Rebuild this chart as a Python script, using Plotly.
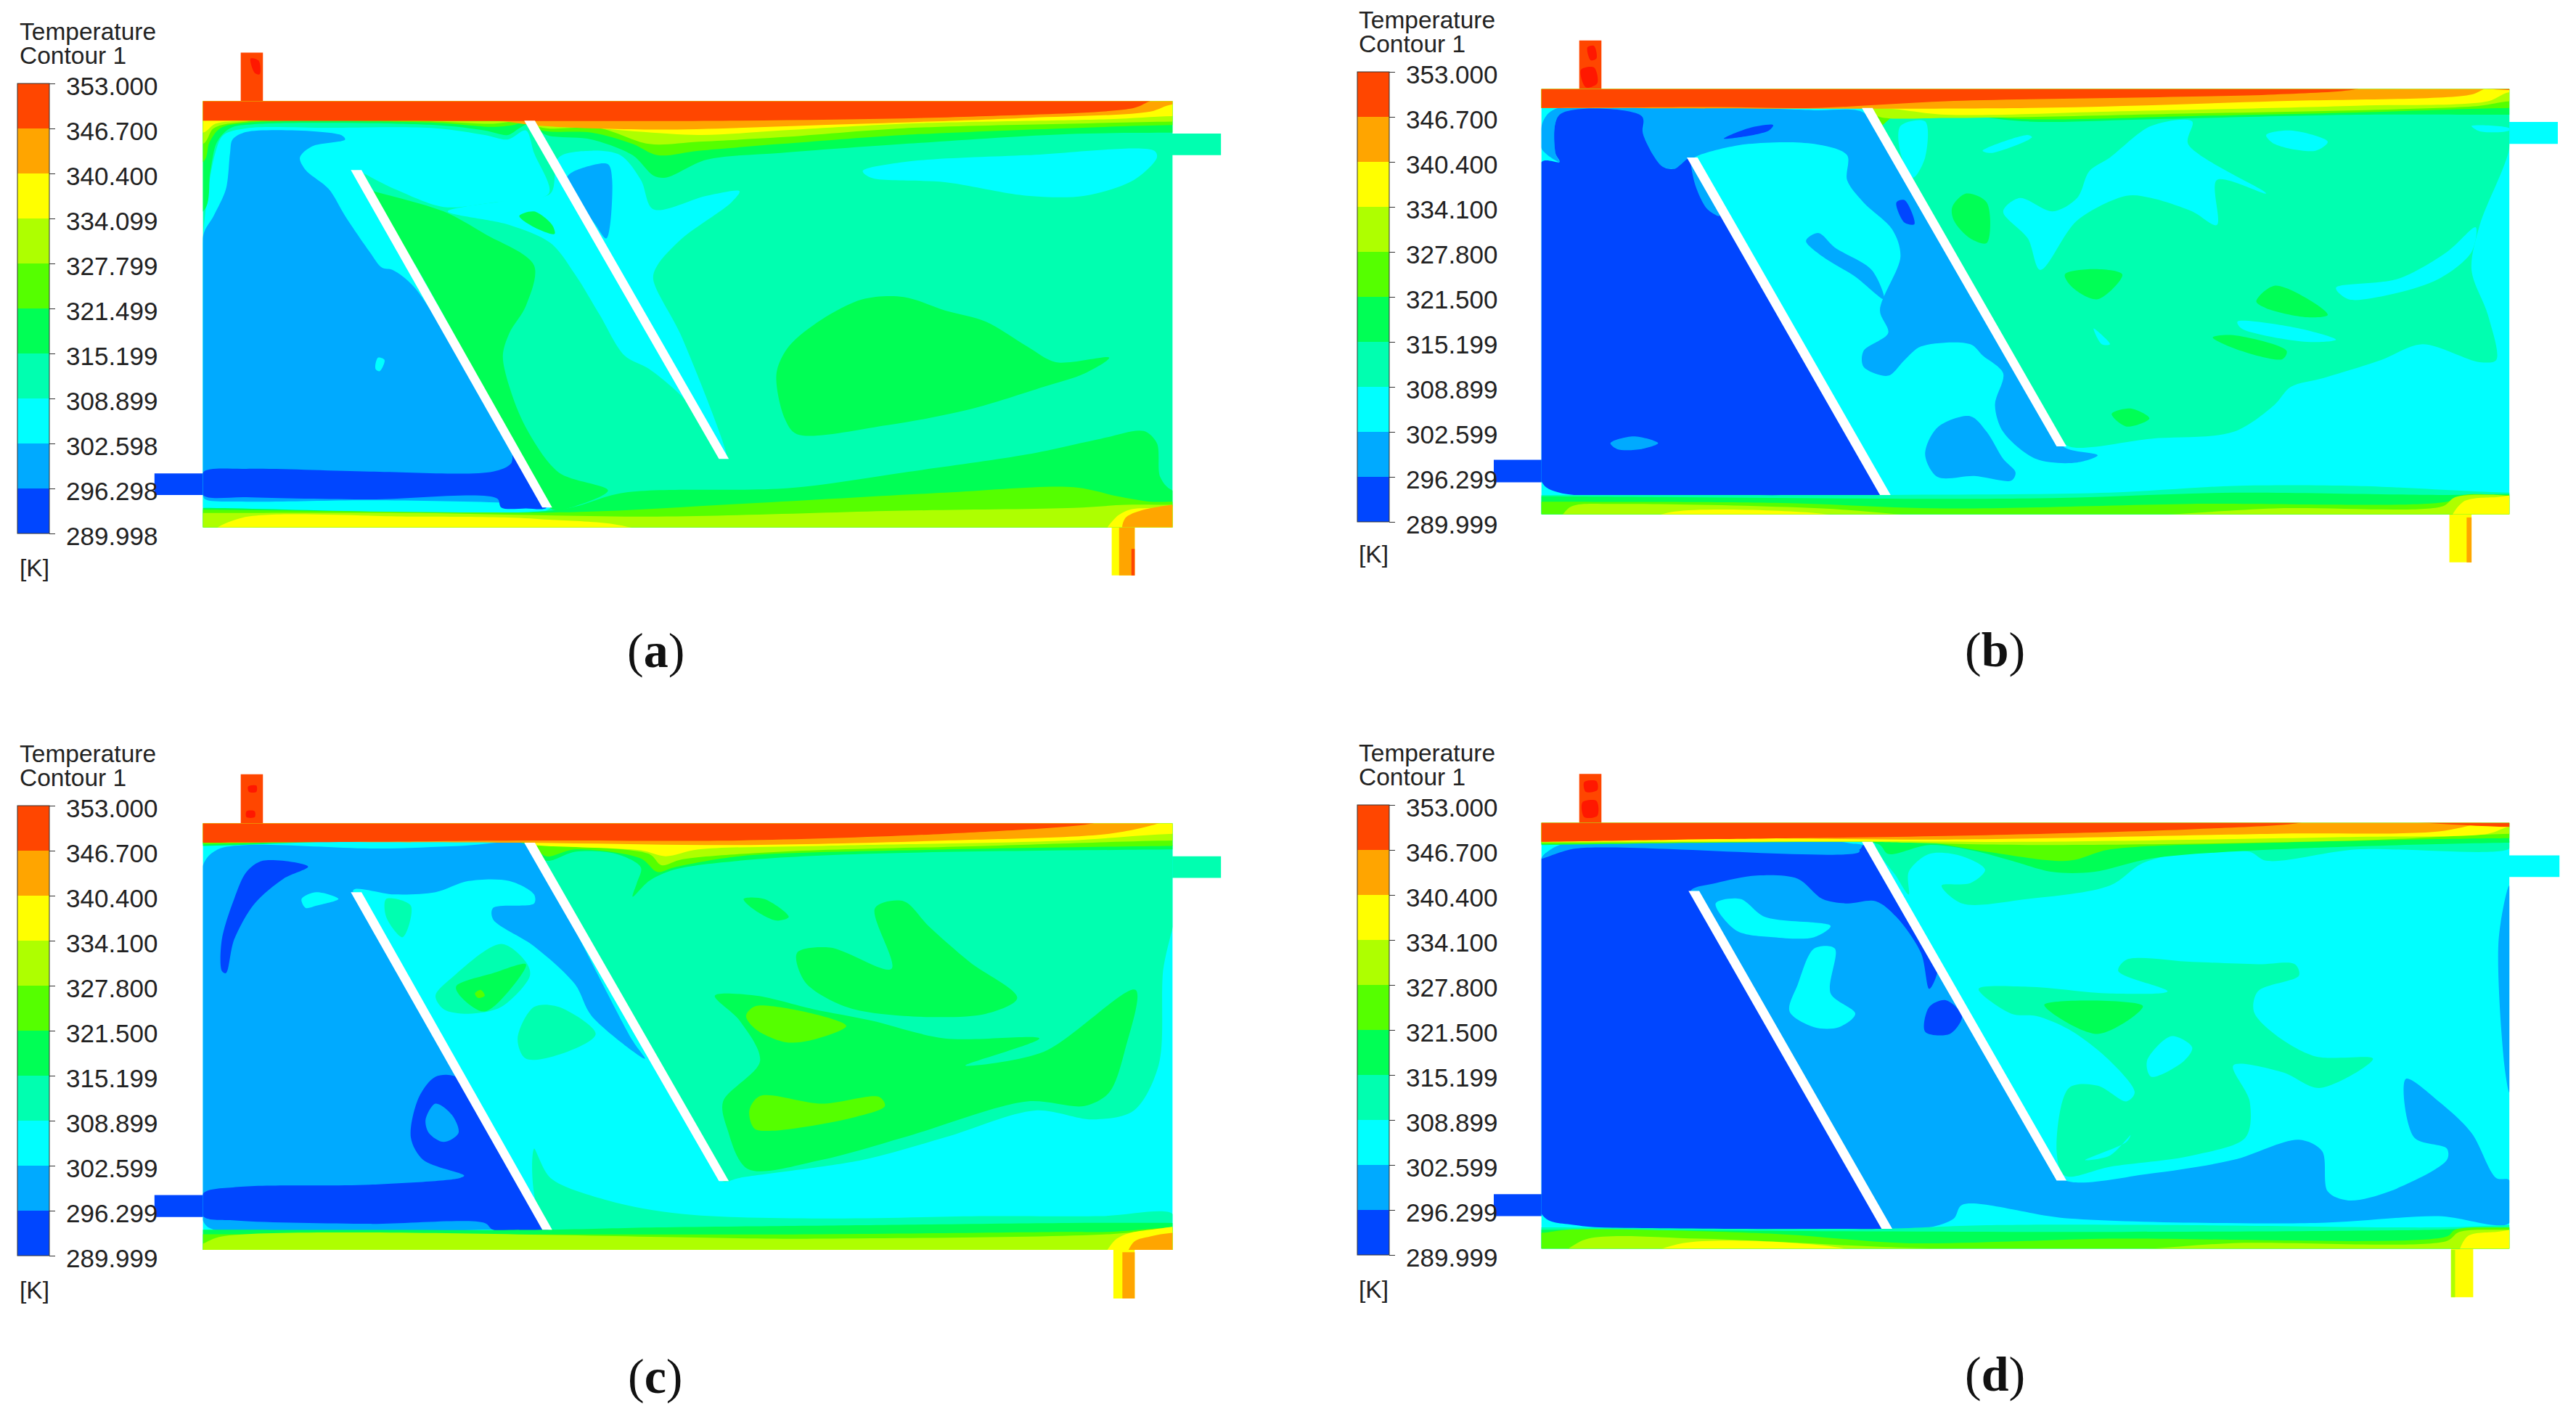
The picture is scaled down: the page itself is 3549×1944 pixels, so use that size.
import plotly.graph_objects as go

PAGE_W, PAGE_H = 3549, 1944
# every outline below is read in a 1568 x 1568 view of one quarter of the page
VIEW = 1568
SX, SY = 1775 / VIEW, 972 / VIEW

band_colors = ["#0046FF", "#00AAFF", "#00FFFF", "#00FFB0", "#00FF55",
               "#55FF00", "#AEFF00", "#FFFF00", "#FFA500", "#FF4600"]
speck_color = "#FF1800"

labels_a = ["289.998", "296.298", "302.598", "308.899", "315.199", "321.499", "327.799", "334.099", "340.400", "346.700", "353.000"]
labels_b = ["289.999", "296.299", "302.599", "308.899", "315.199", "321.500", "327.800", "334.100", "340.400", "346.700", "353.000"]
labels_c = labels_b
labels_d = labels_b

# band, outline (painted in this order)
regions_a = [
    (2, [(247,530),(262,340),(272,300),(300,285),(400,284),(530,285),(590,300),(618,310),(640,290),(650,340),(668,430),(600,450),(540,460),(480,420),(430,378),(445,425),(600,930),(655,1090),(670,1128),(247,1128)]),
    (1, [(247,525),(260,480),(275,420),(280,340),(283,310),(300,293),(415,300),(420,310),(380,325),(365,350),(372,378),(400,420),(420,480),(450,560),(465,595),(478,600),(505,640),(600,930),(650,1085),(665,1125),(620,1118),(450,1112),(300,1115),(250,1110),(247,1100)]),
    (0, [(247,1050),(300,1042),(450,1048),(600,1048),(622,1030),(625,1000),(640,1050),(665,1128),(640,1130),(610,1128),(605,1108),(450,1110),(300,1105),(247,1100)]),
    (2, [(460,795),(468,800),(462,825),(457,820)]),
    (2, [(680,350),(720,335),(755,345),(780,400),(795,465),(860,435),(900,425),(890,450),(830,530),(800,590),(795,620),(830,750),(885,1020),(840,900),(790,820),(760,790),(730,700),(700,610),(670,540),(620,500),(545,470),(620,445),(670,430)]),
    (1, [(690,395),(715,370),(740,365),(745,400),(738,530),(725,500)]),
    (4, [(447,420),(455,425),(540,470),(590,520),(650,590),(640,680),(620,740),(612,790),(620,860),(640,950),(680,1050),(740,1090),(700,1125),(672,1132),(660,1090),(600,900),(506,590)]),
    (4, [(632,480),(650,470),(672,500),(675,520),(650,505)]),
    (2, [(1050,380),(1100,360),(1250,345),(1405,335),(1408,350),(1380,400),(1320,435),(1250,435),(1150,405),(1060,395)]),
    (4, [(945,830),(960,770),(1000,710),(1050,665),(1100,660),(1150,690),(1200,715),(1250,770),(1285,805),(1350,795),(1320,830),(1270,860),(1180,910),(1080,945),(970,965),(955,930)]),
]
top_a = [
    (4, [(247,470),(256,380),(264,316),(280,285),(310,276),(530,278),(590,290),(618,300),(632,285),(645,275),(665,300),(720,310),(770,345),(795,390),(810,395),(860,355),(950,340),(1100,320),(1300,298),(1427,295)]),
    (5, [(247,360),(255,316),(268,285),(300,273),(530,273),(600,282),(625,278),(640,270),(660,290),(720,295),(770,320),(800,345),(850,335),(950,320),(1100,300),(1300,285),(1427,278)]),
    (6, [(247,320),(260,285),(300,270),(530,270),(600,275),(630,270),(665,285),(730,285),(790,320),(850,315),(950,305),(1100,285),(1300,275),(1427,270)]),
    (7, [(247,295),(262,275),(300,268),(470,265),(640,268),(700,280),(850,300),(950,290),(1100,275),(1350,265),(1427,258)]),
    (8, [(247,268),(600,268),(660,280),(800,288),(1000,278),(1250,262),(1400,248),(1427,232)]),
    (9, [(247,268),(900,268),(1200,258),(1380,240),(1398,226),(1420,210)]),
]
bottom_a = [
    (4, [(247,1129),(680,1133),(760,1095),(960,1085),(1100,1050),(1250,1010),(1340,975),(1392,958),(1408,985),(1412,1060),(1427,1090)]),
    (5, [(247,1133),(700,1138),(900,1120),(1150,1095),(1307,1083),(1360,1103),(1400,1115),(1427,1115)]),
    (6, [(247,1140),(500,1140),(800,1148),(1100,1135),(1307,1129),(1370,1122),(1427,1122)]),
]
over_a = [
    (7, [(261,1180),(296,1150),(500,1148),(620,1150),(669,1155),(747,1165),(790,1185)]),
    (7, [(1345,1190),(1358,1150),(1375,1133),(1402,1129),(1500,1129),(1500,1190)]),
    (8, [(1368,1190),(1369,1153),(1402,1129),(1500,1125),(1500,1190)]),
]

regions_b = [
    (3, [(700,230),(1486,240),(1486,330),(1450,500),(1440,600),(1460,700),(1470,800),(1450,805),(1380,765),(1330,800),(1260,840),(1220,860),(1200,900),(1150,960),(1050,975),(950,992),(935,960),(745,370),(705,245)]),
    (1, [(310,270),(325,242),(640,245),(700,250),(725,305),(742,360),(931,960),(945,995),(985,1012),(960,1028),(910,1020),(870,960),(860,900),(870,830),(845,790),(830,765),(770,770),(750,800),(730,835),(700,815),(700,780),(730,740),(720,690),(745,570),(735,510),(700,450),(680,400),(680,345),(640,320),(560,320),(500,345),(470,375),(455,370),(432,310),(430,265),(330,255),(325,340),(330,360),(308,330)]),
    (0, [(308,360),(330,360),(325,340),(330,255),(430,258),(432,300),(455,370),(470,375),(490,350),(500,385),(712,1060),(725,1100),(680,1100),(330,1095),(308,1070)]),
    (1, [(490,355),(505,400),(525,480),(510,465),(495,410)]),
    (1, [(630,535),(645,518),(665,550),(710,600),(725,665),(690,615),(650,570)]),
    (1, [(775,1010),(790,950),(830,925),(850,960),(870,1020),(885,1050),(880,1068),(835,1058),(790,1060)]),
    (0, [(530,308),(560,285),(590,278),(585,290),(550,305)]),
    (0, [(740,450),(750,445),(762,498),(750,495)]),
    (1, [(392,985),(420,970),(450,985),(430,998),(400,998)]),
    (2, [(1000,350),(1050,280),(1100,270),(1095,320),(1190,430),(1130,400),(1130,500),(1100,470),(1050,440),(1020,435),(960,490),(915,600),(900,530),(870,470),(890,440),(930,470),(960,440),(975,380)]),
    (2, [(745,280),(775,270),(775,350),(760,395),(745,340)]),
    (2, [(845,335),(900,300),(905,305),(855,340)]),
    (2, [(1190,300),(1220,290),(1265,315),(1250,335),(1200,320)]),
    (2, [(1440,280),(1486,285),(1486,290),(1450,292)]),
    (2, [(1275,640),(1350,620),(1410,560),(1445,505),(1440,560),(1400,620),(1340,655),(1290,665)]),
    (2, [(1155,715),(1230,730),(1275,755),(1240,760),(1160,730)]),
    (2, [(980,730),(1000,765),(990,765)]),
    (4, [(808,460),(825,430),(850,450),(850,540),(830,530),(810,490)]),
    (4, [(945,610),(980,598),(1015,610),(985,665),(955,640)]),
    (4, [(1178,670),(1200,635),(1250,675),(1265,700),(1240,705),(1190,685)]),
    (4, [(1125,750),(1150,745),(1215,780),(1210,798),(1160,780)]),
    (4, [(1002,920),(1025,908),(1048,930),(1020,948)]),
]
top_b = [
    (4, [(308,240),(700,240),(722,290),(725,270),(750,245),(780,245),(900,270),(1050,265),(1300,255),(1486,255)]),
    (5, [(308,240),(700,240),(715,285),(740,255),(780,250),(900,265),(1100,258),(1300,250),(1486,240)]),
    (6, [(308,240),(700,240),(720,260),(800,262),(900,260),(1100,252),(1300,245),(1450,235),(1486,225)]),
    (7, [(308,240),(720,240),(800,255),(1000,248),(1300,235),(1460,225),(1486,205)]),
    (8, [(308,240),(900,240),(1200,225),(1440,210),(1455,198),(1470,185)]),
    (9, [(308,240),(520,238),(640,240),(800,225),(1200,210),(1300,198),(1320,185)]),
]
bottom_b = [
    (3, [(308,1100),(730,1100),(1000,1095),(1150,1080),(1300,1080),(1486,1095)]),
    (4, [(308,1103),(900,1108),(1150,1095),(1400,1100),(1486,1098)]),
    (5, [(308,1115),(600,1118),(800,1130),(1100,1120),(1410,1115),(1430,1100),(1486,1100)]),
    (6, [(325,1155),(345,1125),(400,1120),(650,1130),(800,1150),(1000,1150),(1200,1130),(1405,1125),(1420,1105),(1470,1100),(1486,1102)]),
]
over_b = [
    (7, [(430,1160),(470,1137),(640,1140),(710,1160)]),
    (7, [(1415,1160),(1430,1115),(1470,1105),(1500,1105),(1500,1160)]),
]

regions_c = [
    (3, [(640,300),(700,320),(1427,310),(1415,600),(1410,800),(1380,900),(1330,920),(1260,900),(1150,960),(1050,1010),(900,1050),(880,1058),(870,1020),(655,340)]),
    (1, [(247,355),(265,320),(300,310),(460,318),(560,312),(640,308),(655,345),(770,745),(785,785),(720,690),(700,620),(650,535),(600,475),(600,450),(650,440),(650,420),(620,390),(570,390),(530,415),(480,420),(430,410),(450,470),(646,1100),(670,1165),(600,1165),(260,1165),(247,1145)]),
    (2, [(367,430),(385,415),(412,430),(385,445),(372,450)]),
    (0, [(270,590),(270,520),(285,430),(300,370),(320,345),(375,358),(345,385),(310,440),(285,520),(275,595)]),
    (0, [(247,1085),(290,1070),(450,1065),(560,1050),(565,1045),(515,1010),(500,960),(510,870),(530,825),(555,825),(580,880),(645,1100),(670,1165),(600,1165),(590,1150),(450,1152),(290,1145),(247,1135)]),
    (1, [(518,920),(530,885),(550,910),(558,950),(540,970),(522,950)]),
    (3, [(530,645),(550,605),(610,530),(640,570),(645,600),(610,670),(570,685),(540,675)]),
    (4, [(555,625),(600,595),(640,575),(630,610),(590,680),(565,655)]),
    (5, [(578,640),(585,632),(590,645),(582,650)]),
    (3, [(630,740),(650,670),(680,670),(725,730),(690,770),(640,785)]),
    (3, [(470,430),(500,445),(490,515),(470,470)]),
    (3, [(650,985),(670,1050),(740,1100),(830,1130),(1000,1140),(1200,1135),(1340,1135),(1427,1130),(1427,1170),(670,1170)]),
    (4, [(970,550),(1010,538),(1085,585),(1065,450),(1100,435),(1130,490),(1180,570),(1238,650),(1200,685),(1100,690),(1030,670),(980,615)]),
    (4, [(870,645),(920,645),(990,675),(1060,700),(1150,740),(1265,740),(1175,800),(1270,770),(1382,632),(1370,760),(1350,860),(1320,890),(1250,880),(1100,960),(1000,1010),(910,1030),(885,940),(880,880),(925,790),(900,700)]),
    (5, [(908,690),(920,668),(1030,712),(985,745),(955,748),(920,720)]),
    (5, [(912,900),(925,868),(1000,885),(1070,870),(1077,890),(1040,915),(940,945),(918,940)]),
    (4, [(905,430),(930,430),(960,470),(945,478),(915,450)]),
]
top_c = [
    (4, [(247,312),(640,308),(665,345),(700,325),(750,330),(780,360),(775,395),(770,425),(790,390),(820,365),(900,345),(1050,330),(1427,320)]),
    (5, [(247,308),(640,305),(665,335),(700,320),(780,340),(800,370),(820,360),(900,335),(1100,322),(1427,312)]),
    (6, [(247,305),(640,305),(660,310),(790,330),(805,355),(830,342),(950,325),(1200,312),(1427,300)]),
    (7, [(247,305),(640,305),(650,310),(780,322),(810,335),(850,320),(1000,312),(1300,300),(1427,285)]),
    (8, [(247,303),(640,305),(900,310),(1150,300),(1350,285),(1410,262),(1427,250)]),
    (9, [(247,305),(450,303),(640,300),(900,300),(1150,285),(1330,262),(1350,250)]),
]
bottom_c = [
    (4, [(247,1165),(670,1165),(800,1160),(1050,1155),(1300,1150),(1427,1150)]),
    (5, [(247,1175),(1000,1175),(1300,1170),(1350,1170),(1427,1160)]),
    (6, [(240,1200),(270,1180),(1000,1185),(1350,1175),(1427,1162)]),
]
over_c = [
    (7, [(1345,1230),(1356,1190),(1370,1175),(1400,1165),(1500,1158),(1500,1230)]),
    (8, [(1372,1230),(1380,1192),(1400,1180),(1427,1172),(1500,1172),(1500,1230)]),
]

regions_d = [
    (1, [(700,310),(722,365),(924,1000),(945,1055),(1050,1040),(1150,1010),(1230,965),(1258,990),(1265,1080),(1290,1100),(1340,1080),(1410,1010),(1410,985),(1370,960),(1360,830),(1400,880),(1440,950),(1470,1050),(1486,1055),(1486,1150),(1400,1135),(1250,1150),(950,1140),(820,1110),(810,1140),(780,1160),(730,1163),(710,1100),(512,470),(490,412)]),
    (1, [(1486,400),(1473,520),(1480,800),(1486,860)]),
    (0, [(308,340),(335,315),(695,320),(700,310),(722,365),(785,560),(790,590),(780,630),(770,550),(740,470),(715,435),(680,440),(650,430),(620,385),(570,378),(520,395),(490,412),(512,470),(710,1100),(730,1163),(680,1163),(350,1155),(308,1130)]),
    (1, [(308,340),(330,310),(690,310),(695,325),(350,318)]),
    (2, [(520,440),(550,430),(580,470),(660,490),(640,515),(590,515),(545,500)]),
    (2, [(620,620),(640,540),(665,540),(660,640),(690,685),(670,715),(640,715),(610,680)]),
    (0, [(775,725),(780,670),(800,655),(820,690),(805,730)]),
    (3, [(715,300),(1486,300),(1486,318),(1300,320),(1190,345),(1170,325),(1100,325),(1040,350),(1000,400),(900,430),(820,440),(795,400),(830,395),(848,365),(820,335),(780,330),(755,370),(755,420),(740,380)]),
    (3, [(840,630),(900,625),(1000,640),(1070,635),(1010,590),(1020,565),(1100,570),(1180,575),(1225,575),(1230,600),(1180,635),(1175,680),(1200,730),(1250,780),(1320,785),(1255,850),(1210,815),(1150,800),(1170,880),(1165,960),(1100,1000),(1000,1025),(945,1045),(935,990),(950,850),(985,845),(1020,880),(1030,860),(1000,790),(950,720),(910,690),(880,685)]),
    (2, [(1045,790),(1075,735),(1100,760),(1090,790),(1050,825)]),
    (2, [(970,1010),(1020,970),(1025,955),(1000,1000)]),
    (4, [(920,665),(1040,668),(985,730)]),
]
top_d = [
    (4, [(308,310),(700,303),(720,310),(730,330),(780,310),(840,325),(880,345),(930,370),(980,370),(1050,340),(1200,320),(1486,305)]),
    (5, [(308,308),(700,303),(780,305),(850,325),(950,345),(1000,320),(1200,305),(1486,295)]),
    (6, [(308,305),(700,303),(750,305),(900,310),(1300,300),(1486,285)]),
    (7, [(308,303),(720,302),(900,303),(1300,292),(1460,285),(1486,270)]),
    (8, [(308,303),(520,295),(800,298),(1200,285),(1400,280),(1450,261),(1470,250)]),
    (9, [(308,303),(520,297),(800,290),(1100,275),(1230,261),(1250,250)]),
]
bottom_d = [
    (3, [(308,1160),(720,1163),(850,1155),(1100,1155),(1400,1160),(1486,1155)]),
    (4, [(308,1165),(1000,1170),(1400,1165),(1486,1160)]),
    (5, [(308,1172),(340,1165),(600,1175),(750,1195),(1000,1185),(1410,1180),(1420,1165),(1486,1160)]),
    (6, [(325,1220),(365,1185),(500,1185),(750,1205),(1000,1212),(1150,1195),(1410,1190),(1425,1170),(1486,1165)]),
]
over_d = [
    (7, [(430,1230),(480,1195),(650,1200),(730,1230)]),
    (7, [(1425,1230),(1435,1180),(1470,1170),(1500,1168),(1500,1230)]),
]

# band, x from, x to, y from, y to
tubes_a = [(9,293,320,117,230), (0,188,250,1052,1100), (3,1425,1486,297,345),
           (7,1353,1381,1170,1279), (8,1362,1381,1165,1279), (9,1377,1381,1220,1279)]
tubes_b = [(9,354,381,90,200), (0,250,310,1022,1072), (2,1484,1545,271,320),
           (7,1413,1440,1140,1250), (8,1434,1440,1150,1250)]
tubes_c = [(9,293,320,153,265), (0,188,250,1088,1137), (3,1425,1486,335,383),
           (7,1355,1381,1205,1318), (8,1366,1381,1215,1318)]
tubes_d = [(9,354,381,152,263), (0,250,310,1086,1135), (2,1484,1547,333,381),
           (7,1415,1442,1203,1315), (6,1415,1420,1210,1315)]

specks_a = [[(305,130),(315,135),(316,165),(310,162)]]
specks_b = [[(364,105),(372,102),(375,130),(368,134)], [(356,155),(372,150),(376,185),(362,194)]]
specks_c = [[(302,180),(312,178),(312,192),(303,192)], [(300,235),(310,235),(310,248),(300,248)]]
specks_d = [[(360,170),(375,168),(376,188),(362,192)], [(358,215),(375,212),(376,245),(360,248)]]

baffles_a = [[(427,378),(440,378),(672,1128),(660,1128)], [(638,268),(651,268),(887,1020),(875,1020)]]
baffles_b = [[(485,350),(498,350),(733,1100),(720,1100)], [(698,240),(711,240),(947,992),(935,992)]]
baffles_c = [[(427,415),(440,415),(672,1165),(660,1165)], [(638,305),(651,305),(887,1057),(875,1057)]]
baffles_d = [[(487,412),(500,412),(735,1163),(722,1163)], [(698,303),(711,303),(947,1056),(935,1056)]]

panels = [
    dict(name="a", labels=labels_a, regions=regions_a, top=top_a, bottom=bottom_a, over=over_a, tubes=tubes_a, specks=specks_a, baffles=baffles_a,
         base=3, off=(0, 0), body=(247, 1427, 225, 1172), bar_top=115, bar_x=24, title_y=(70, 124), unit_y=1262, text_x=22, cap=(798, 1445)),
    dict(name="b", labels=labels_b, regions=regions_b, top=top_b, bottom=bottom_b, over=over_b, tubes=tubes_b, specks=specks_b, baffles=baffles_b,
         base=2, off=(1775, 0), body=(308, 1486, 198, 1143), bar_top=99, bar_x=1870, title_y=(45, 98), unit_y=1232, text_x=84, cap=(860, 1443)),
    dict(name="c", labels=labels_c, regions=regions_c, top=top_c, bottom=bottom_c, over=over_c, tubes=tubes_c, specks=specks_c, baffles=baffles_c,
         base=2, off=(0, 972), body=(247, 1427, 262, 1210), bar_top=1110, bar_x=24, title_y=(107, 160), unit_y=1300, text_x=22, cap=(798, 1490)),
    dict(name="d", labels=labels_d, regions=regions_d, top=top_d, bottom=bottom_d, over=over_d, tubes=tubes_d, specks=specks_d, baffles=baffles_d,
         base=2, off=(1775, 972), body=(308, 1486, 261, 1207), bar_top=1109, bar_x=1870, title_y=(106, 159), unit_y=1297, text_x=84, cap=(860, 1485)),
]

BAR_LEN = 620
text_font = dict(family="Liberation Sans", color="#222222")


def closed(points):
    xs = [p[0] for p in points] + [points[0][0]]
    ys = [p[1] for p in points] + [points[0][1]]
    return xs, ys


def patch(fig, points, band, xa, ya, smooth=True, color=None):
    xs, ys = closed(points)
    line = dict(width=0, shape="spline", smoothing=0.9) if smooth else dict(width=0)
    fig.add_trace(go.Scatter(x=xs, y=ys, xaxis=xa, yaxis=ya, mode="lines", fill="toself",
                             fillcolor=color or band_colors[band], line=line,
                             hoverinfo="skip", showlegend=False))


def band_scale():
    scale = []
    for i, c in enumerate(band_colors):
        scale.append([i / 10, c])
        scale.append([(i + 1) / 10, c])
    return scale


fig = go.Figure()
layout = {}
for i, p in enumerate(panels):
    ox, oy = p["off"]
    # outer axes: the whole quarter of the page
    n_out, n_in = 2 * i + 1, 2 * i + 2
    quarter_w = min(1775, PAGE_W - ox)
    layout[f"xaxis{n_out}"] = dict(domain=[ox / PAGE_W, (ox + quarter_w) / PAGE_W], range=[0, quarter_w / SX], visible=False, anchor=f"y{n_out}")
    layout[f"yaxis{n_out}"] = dict(domain=[1 - (oy + 972) / PAGE_H, 1 - oy / PAGE_H], range=[VIEW, 0], visible=False, anchor=f"x{n_out}")
    # inner axes: the tank body, so that contour bands are clipped to it
    x0, x1, y0, y1 = p["body"]
    layout[f"xaxis{n_in}"] = dict(domain=[(ox + x0 * SX) / PAGE_W, (ox + x1 * SX) / PAGE_W], range=[x0, x1], visible=False, anchor=f"y{n_in}")
    layout[f"yaxis{n_in}"] = dict(domain=[1 - (oy + y1 * SY) / PAGE_H, 1 - (oy + y0 * SY) / PAGE_H], range=[y1, y0], visible=False, anchor=f"x{n_in}")
    xo, yo, xi, yi = f"x{n_out}", f"y{n_out}", f"x{n_in}", f"y{n_in}"

    for band, a, b, c, d in p["tubes"]:
        patch(fig, [(a, c), (b, c), (b, d), (a, d)], band, xo, yo, smooth=False)
    for outline in p["specks"]:
        patch(fig, outline, 9, xo, yo, color=speck_color)

    levels = [float(s) for s in p["labels"]]
    fig.add_trace(go.Heatmap(
        z=[levels], x=list(range(-20, -9)), y=[-10], xaxis=xo, yaxis=yo,
        zmin=levels[0], zmax=levels[-1], colorscale=band_scale(), hoverinfo="skip",
        colorbar=dict(x=p["bar_x"] / PAGE_W, xanchor="left", y=1 - p["bar_top"] / PAGE_H, yanchor="top",
                      thickness=44, thicknessmode="pixels", len=BAR_LEN, lenmode="pixels", xpad=0, ypad=0,
                      outlinewidth=1, outlinecolor="#333333", borderwidth=0,
                      tickmode="array", tickvals=levels, showticklabels=False,
                      ticks="outside", ticklen=8, tickwidth=1, tickcolor="#333333"),
    ))

    patch(fig, [(x0 - 50, y0 - 50), (x1 + 50, y0 - 50), (x1 + 50, y1 + 50), (x0 - 50, y1 + 50)], p["base"], xi, yi, smooth=False)
    for band, outline in p["regions"]:
        patch(fig, outline, band, xi, yi)
    for band, edge in p["top"]:
        patch(fig, [(x0 - 100, edge[0][1])] + edge + [(x1 + 100, edge[-1][1]), (x1 + 100, y0 - 100), (x0 - 100, y0 - 100)], band, xi, yi)
    for band, edge in p["bottom"]:
        patch(fig, [(x0 - 100, edge[0][1])] + edge + [(x1 + 100, edge[-1][1]), (x1 + 100, y1 + 100), (x0 - 100, y1 + 100)], band, xi, yi)
    for band, outline in p["over"]:
        patch(fig, outline, band, xi, yi)
    for outline in p["baffles"]:
        patch(fig, outline, 0, xi, yi, smooth=False, color="#FFFFFF")

    # bar labels sit a little below their ticks in the original
    for k, label in enumerate(reversed(p["labels"])):
        px_y = p["bar_top"] + k * BAR_LEN / 10 + 3.5
        fig.add_annotation(text=label, x=(p["bar_x"] + 65 - ox) / SX, y=(px_y - oy) / SY, xref=xo, yref=yo,
                           xanchor="left", yanchor="middle", showarrow=False, font=dict(size=35, **text_font))

    texts = [("Temperature", p["title_y"][0]), ("Contour 1", p["title_y"][1]), ("[K]", p["unit_y"])]
    for text, ty in texts:
        fig.add_annotation(text=text, x=p["text_x"], y=ty, xref=xo, yref=yo, xanchor="left", yanchor="middle", showarrow=False,
                           font=dict(size=33.5, **text_font))
    fig.add_annotation(text=f"(<b>{p['name']}</b>)", x=p["cap"][0], y=p["cap"][1], xref=xo, yref=yo, showarrow=False,
                       font=dict(family="Liberation Serif", size=68, color="#111111"))

fig.update_layout(width=PAGE_W, height=PAGE_H, margin=dict(l=0, r=0, t=0, b=0), paper_bgcolor="white",
                  plot_bgcolor="rgba(0,0,0,0)", showlegend=False, **layout)
fig.write_html("out.html", config={"displayModeBar": False}, post_script="document.body.style.margin='0';")
